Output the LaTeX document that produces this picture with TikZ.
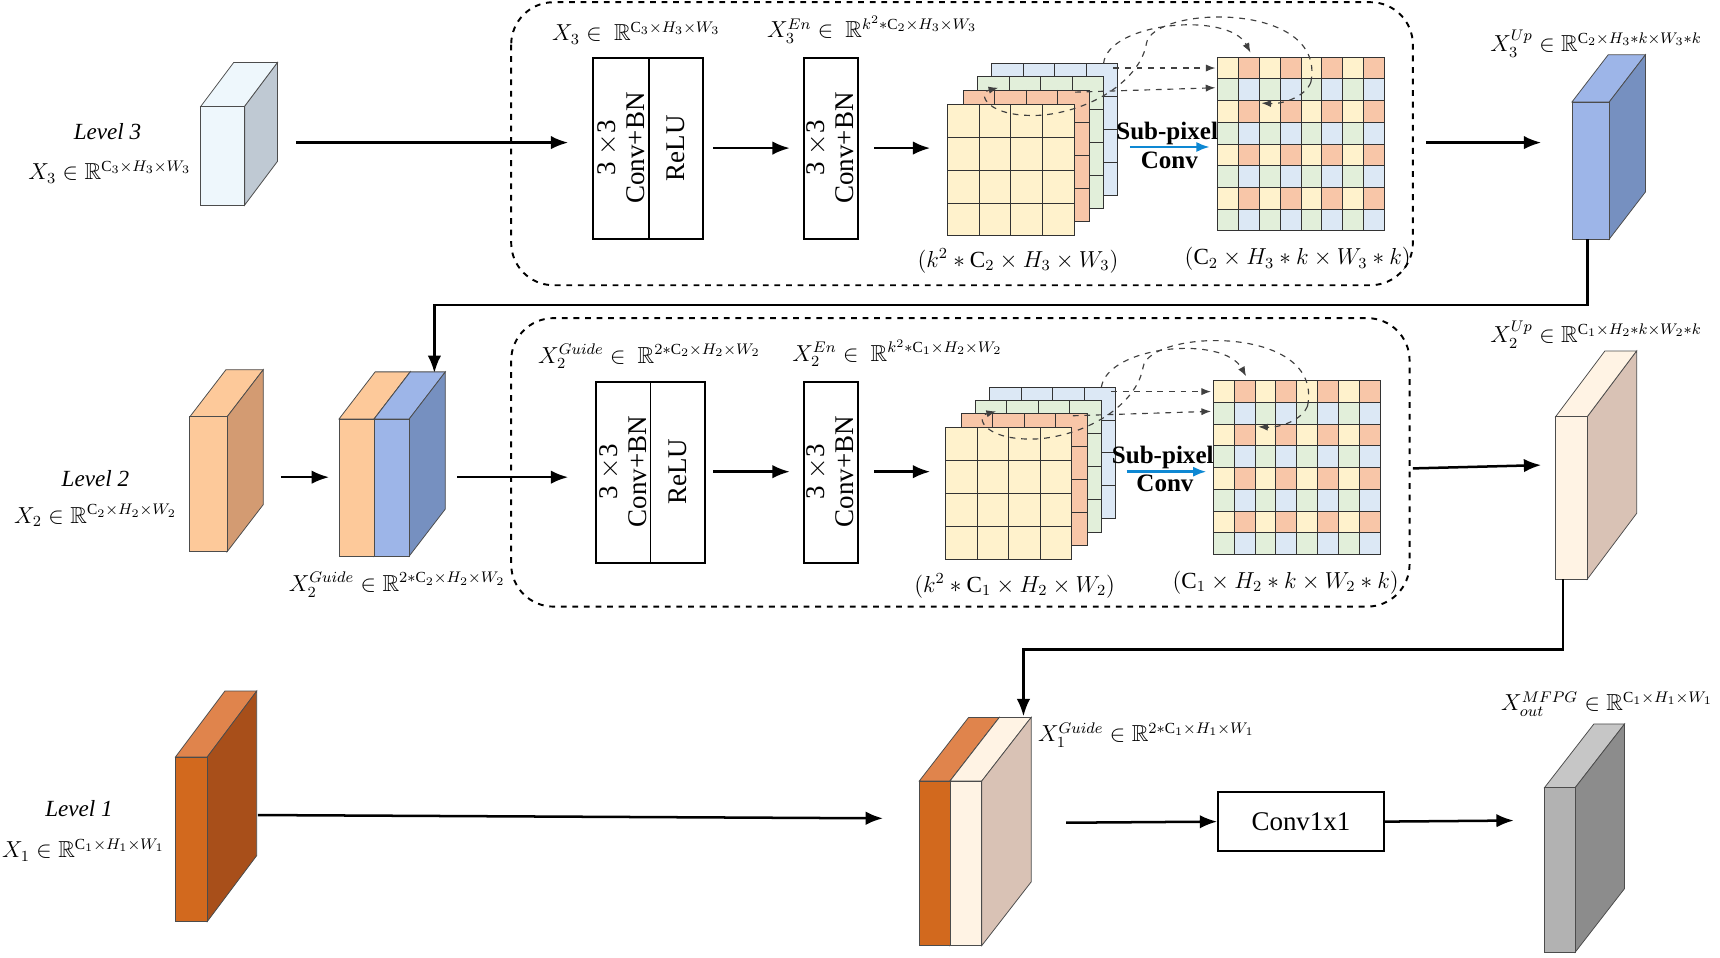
\documentclass[tikz,border=0pt]{standalone}
\usepackage{amssymb}
\usepackage{fontspec}
\setmainfont{Liberation Serif}
\usetikzlibrary{arrows.meta}
\definecolor{cy}{HTML}{FFF2CC}\definecolor{co}{HTML}{F8C6A8}
\definecolor{cg}{HTML}{E2EFDA}\definecolor{cb}{HTML}{DCE8F5}
\definecolor{bluF}{HTML}{9DB5E8}\definecolor{bluS}{HTML}{7690C0}
\definecolor{orF}{HTML}{FDC99A}\definecolor{orS}{HTML}{D39B72}
\definecolor{dkF}{HTML}{D2691E}\definecolor{dkS}{HTML}{A84F1A}\definecolor{dkT}{HTML}{E0844C}
\definecolor{crF}{HTML}{FFF3E4}\definecolor{crS}{HTML}{D9C2B5}
\definecolor{ltF}{HTML}{EEF7FC}\definecolor{ltS}{HTML}{BFC9D3}
\newcommand\mycube[9]{% x y w h dx dy front side top
 \fill[#9,draw=black!70] (#1,#2)--++(#5,#6)--++(#3,0)--++(-#5,-#6)--cycle;
 \fill[#8,draw=black!70] (#1+#3,#2)--++(#5,#6)--++(0,#4)--++(-#5,-#6)--cycle;
 \fill[#7,draw=black!70] (#1,#2) rectangle ++(#3,#4);}
\newcommand\stackgrid[2]{% x y of front-layer top-left
 \foreach \o/\c in {40/cb,27/cg,14/co,0/cy}{
  \begin{scope}[shift={(#1+\o,#2-\o*0.93)}]
   \fill[\c] (0,0) rectangle (115,120);
   \foreach \i in {1,2,3}{\draw[black!80] (\i*28.75,0)--(\i*28.75,120) (0,\i*30)--(115,\i*30);}
   \draw[black!80] (0,0) rectangle (115,120);
  \end{scope}}}
\newcommand\bigrid[2]{%
 \begin{scope}[shift={(#1,#2)}]
 \foreach \r in {0,...,7}{\foreach \c in {0,...,7}{
  \pgfmathtruncatemacro\rp{mod(\r,2)}\pgfmathtruncatemacro\cp{mod(\c,2)}
  \ifnum\rp=0 \ifnum\cp=0 \def\cc{cy}\else\def\cc{co}\fi
  \else \ifnum\cp=0 \def\cc{cg}\else\def\cc{cb}\fi\fi
  \fill[\cc,draw=black!80] (\c*19,\r*19.8) rectangle ++(19,19.8);}}
 \end{scope}}
\begin{document}
\begin{tikzpicture}[x=0.02cm,y=-0.02cm,font=\fontsize{12}{14}\selectfont,
 arr/.style={-{Latex[length=9pt,width=7pt]},line width=1.3pt},
 dbox/.style={draw,dashed,line width=1pt,rounded corners=22pt},
 dc/.style={dashed,black!75,line width=0.6pt,-{Latex[length=5pt]}},
 rt/.style={rotate=90,align=center,font=\fontsize{14}{15}\selectfont},
 sp/.style={font=\bfseries\fontsize{13}{14}\selectfont,inner sep=1pt},
 lab/.style={inner sep=1pt}]
\useasboundingbox (0,0) rectangle (1568,873);
% ---------- row 1
\mycube{183}{97}{40}{90}{30}{-40}{ltF}{ltS}{ltF}
\node[lab] (l3) at (98,120) {\itshape Level 3};
\node[lab] (x3) at (100,157) {$X_3\in\mathbb{R}^{\mathrm{C}_3\times H_3\times W_3}$};
\draw[dbox] (466,2) rectangle (1288,260);
\node[lab] at (580,30) {$X_3\in\ \mathbb{R}^{\mathrm{C}_3\times H_3\times W_3}$};
\node[lab] at (795,27) {$X_3^{En}\in\ \mathbb{R}^{k^2*\mathrm{C}_2\times H_3\times W_3}$};
\draw[line width=1pt] (541,53) rectangle (641,218) (592,53)--(592,218);
\node[rt] (b1) at (566,135) {3 $\times$3\\Conv+BN};
\node[rt] (r1) at (616,135) {ReLU};
\draw[arr] (270,130) -- (518,130);
\draw[line width=1pt] (733,53) rectangle (782,218);
\node[rt] (c1) at (757,135) {3 $\times$3\\Conv+BN};
\draw[arr] (650,135) -- (720,135);
\draw[arr] (797,135) -- (848,135);
\stackgrid{864}{95}
\bigrid{1110}{52}
\draw[dc] (1006,58) .. controls (1010,20) and (1120,10) .. (1140,48);
\draw[dc] (1195,75) .. controls (1210,0) and (1050,5) .. (1045,40) .. controls (1040,70) and (1000,100) .. (950,105) .. controls (900,108) and (890,85) .. (910,80);
\draw[dc] (1015,62) -- (1108,62);
\draw[dc] (980,84) -- (1108,80);
\draw[dc] (1195,75) .. controls (1190,88) and (1170,95) .. (1150,94);
\node[sp] (sp1) at (1064,122) {Sub-pixel};
\node[sp] at (1066,146) {Conv};
\draw[-{Latex[length=7pt]},line width=1.5pt,cyan!70!blue] (1030,134)--(1103,134);
\node[lab] at (928,238) {$(k^2*\mathrm{C}_2\times H_3\times W_3)$};
\node[lab] at (1183,236) {$(\mathrm{C}_2\times H_3*k\times W_3*k)$};
\draw[arr] (1300,130) -- (1405,130);
\mycube{1433}{93}{34}{125}{33}{-43}{bluF}{bluS}{bluF}
\node[lab] at (1455,40) {$X_3^{Up}\in\mathbb{R}^{\mathrm{C}_2\times H_3*k\times W_3*k}$};
\coordinate (u3) at (1447,218);
\coordinate (g2) at (396,340);
\draw[arr] (u3) |- (700,278) -| (g2);
% ---------- row 2
\mycube{173}{380}{34}{123}{33}{-43}{orF}{orS}{orF}
\node[lab] at (87,436) {\itshape Level 2};
\node[lab] at (87,470) {$X_2\in\mathbb{R}^{\mathrm{C}_2\times H_2\times W_2}$};
\draw[arr] (256,435) -- (300,435);
\mycube{309}{382}{32}{125}{33}{-43}{orF}{orF}{orF}
\mycube{341}{382}{32}{125}{33}{-43}{bluF}{bluS}{bluF}
\node[lab] at (362,533) {$X_2^{Guide}\in\mathbb{R}^{2*\mathrm{C}_2\times H_2\times W_2}$};
\draw[arr] (417,435) -- (518,435);
\draw[dbox] (466,290) rectangle (1285,553);
\node[lab] at (592,325) {$X_2^{Guide}\in\ \mathbb{R}^{2*\mathrm{C}_2\times H_2\times W_2}$};
\node[lab] at (818,322) {$X_2^{En}\in\ \mathbb{R}^{k^2*\mathrm{C}_1\times H_2\times W_2}$};
\draw[line width=1pt] (543,348) rectangle (643,513) (593,348)--(593,513);
\node[rt] at (568,430) {3 $\times$3\\Conv+BN};
\node[rt] at (618,430) {ReLU};
\draw[line width=1pt] (733,348) rectangle (782,513);
\node[rt] at (757,430) {3 $\times$3\\Conv+BN};
\draw[arr] (650,430) -- (720,430);
\draw[arr] (797,430) -- (848,430);
\stackgrid{862}{390}
\bigrid{1106}{347}
\draw[dc] (1004,353) .. controls (1010,315) and (1115,305) .. (1136,343);
\draw[dc] (1192,370) .. controls (1207,295) and (1047,300) .. (1042,335) .. controls (1037,365) and (998,395) .. (948,400) .. controls (898,403) and (888,380) .. (908,375);
\draw[dc] (1013,357) -- (1104,357);
\draw[dc] (978,379) -- (1104,375);
\draw[dc] (1192,370) .. controls (1187,383) and (1167,390) .. (1147,389);
\node[sp] at (1060,417) {Sub-pixel};
\node[sp] at (1062,441) {Conv};
\draw[-{Latex[length=7pt]},line width=1.5pt,cyan!70!blue] (1027,430)--(1100,430);
\node[lab] at (925,534) {$(k^2*\mathrm{C}_1\times H_2\times W_2)$};
\node[lab] at (1172,531) {$(\mathrm{C}_1\times H_2*k\times W_2*k)$};
\draw[arr] (1288,427) -- (1405,424);
\mycube{1418}{380}{29}{148}{45}{-60}{crF}{crS}{crF}
\node[lab] at (1455,305) {$X_2^{Up}\in\mathbb{R}^{\mathrm{C}_1\times H_2*k\times W_2*k}$};
\coordinate (u2) at (1425,528);
\coordinate (g1) at (933,653);
\draw[arr] (u2) |- (1000,592) -| (g1);
% ---------- row 3
\mycube{160}{690}{29}{150}{45}{-60}{dkF}{dkS}{dkT}
\node[lab] at (72,737) {\itshape Level 1};
\node[lab] at (76,775) {$X_1\in\mathbb{R}^{\mathrm{C}_1\times H_1\times W_1}$};
\draw[arr] (235,743) -- (805,746);
\mycube{838}{712}{28}{150}{45}{-58}{dkF}{dkS}{dkT}
\mycube{866}{712}{29}{150}{45}{-58}{crF}{crS}{crF}
\node[lab] at (1045,670) {$X_1^{Guide}\in\mathbb{R}^{2*\mathrm{C}_1\times H_1\times W_1}$};
\node[draw,line width=1pt,minimum width=151*0.02cm,minimum height=54*0.02cm,font=\fontsize{14}{15}\selectfont] (c11) at (1186,749) {Conv1x1};
\draw[arr] (972,750) -- (c11.west);
\draw[arr] (c11.east) -- (1380,748);
\mycube{1408}{718}{28}{150}{45}{-58}{gray!60}{gray!90}{gray!45}
\node[lab] at (1465,642) {$X_{out}^{MFPG}\in\mathbb{R}^{\mathrm{C}_1\times H_1\times W_1}$};
\end{tikzpicture}
\end{document}
